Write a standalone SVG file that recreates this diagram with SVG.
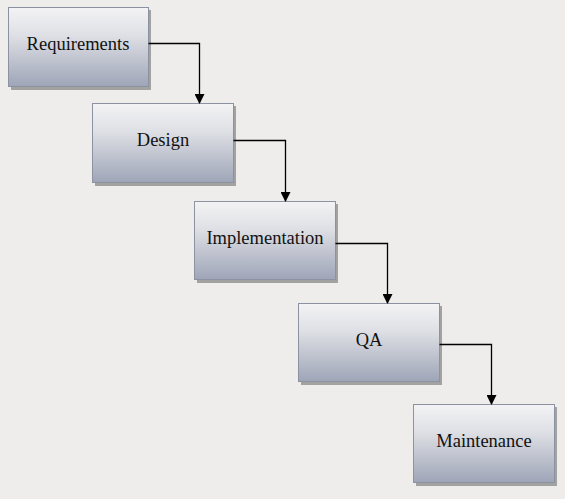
<svg xmlns="http://www.w3.org/2000/svg" width="565" height="499" viewBox="0 0 565 499">
<style>
.box{fill:url(#g);stroke:#8b93a3;stroke-width:1}
.sh{fill:#8e8e8e;opacity:0.8}
.lbl{font-family:"Liberation Serif","Times New Roman",serif;font-size:18.5px;fill:#111;text-anchor:middle}
.con{fill:none;stroke:#000;stroke-width:1.3}
</style>
<defs>
<linearGradient id="g" x1="0" y1="0" x2="0" y2="1">
<stop offset="0" stop-color="#f3f3f5"/>
<stop offset="0.35" stop-color="#dfe0e5"/>
<stop offset="1" stop-color="#9ea5b7"/>
</linearGradient>
<marker id="ah" markerWidth="10" markerHeight="10" refX="9" refY="5" orient="auto" markerUnits="userSpaceOnUse">
<path d="M0,0 L10,5 L0,10 z" fill="#000"/>
</marker>
</defs>
<rect width="565" height="499" fill="#efedeb"/>
<g id="requirements">
<rect class="sh" x="11" y="10" width="140" height="80"/>
<rect class="box" x="8.5" y="7.5" width="140" height="79"/>
<text class="lbl" x="78" y="50">Requirements</text>
</g>
<g id="design">
<rect class="sh" x="95" y="106" width="141" height="80"/>
<rect class="box" x="92.5" y="103.5" width="141" height="79"/>
<text class="lbl" x="163" y="146">Design</text>
</g>
<g id="implementation">
<rect class="sh" x="197" y="204" width="141" height="79"/>
<rect class="box" x="194.5" y="201.5" width="141" height="78"/>
<text class="lbl" x="265" y="244">Implementation</text>
</g>
<g id="qa">
<rect class="sh" x="301" y="306" width="141" height="79"/>
<rect class="box" x="298.5" y="303.5" width="141" height="78"/>
<text class="lbl" x="369" y="346">QA</text>
</g>
<g id="maintenance">
<rect class="sh" x="416" y="407" width="141" height="79"/>
<rect class="box" x="413.5" y="404.5" width="141" height="78"/>
<text class="lbl" x="484" y="447">Maintenance</text>
</g>
<g id="connectors">
<path class="con" d="M148.5,43.5 H199.5 V103" marker-end="url(#ah)"/>
<path class="con" d="M233.5,140.5 H285.5 V201" marker-end="url(#ah)"/>
<path class="con" d="M335.5,243.5 H387.5 V303" marker-end="url(#ah)"/>
<path class="con" d="M439.5,344.5 H491.5 V404" marker-end="url(#ah)"/>
</g>
</svg>
